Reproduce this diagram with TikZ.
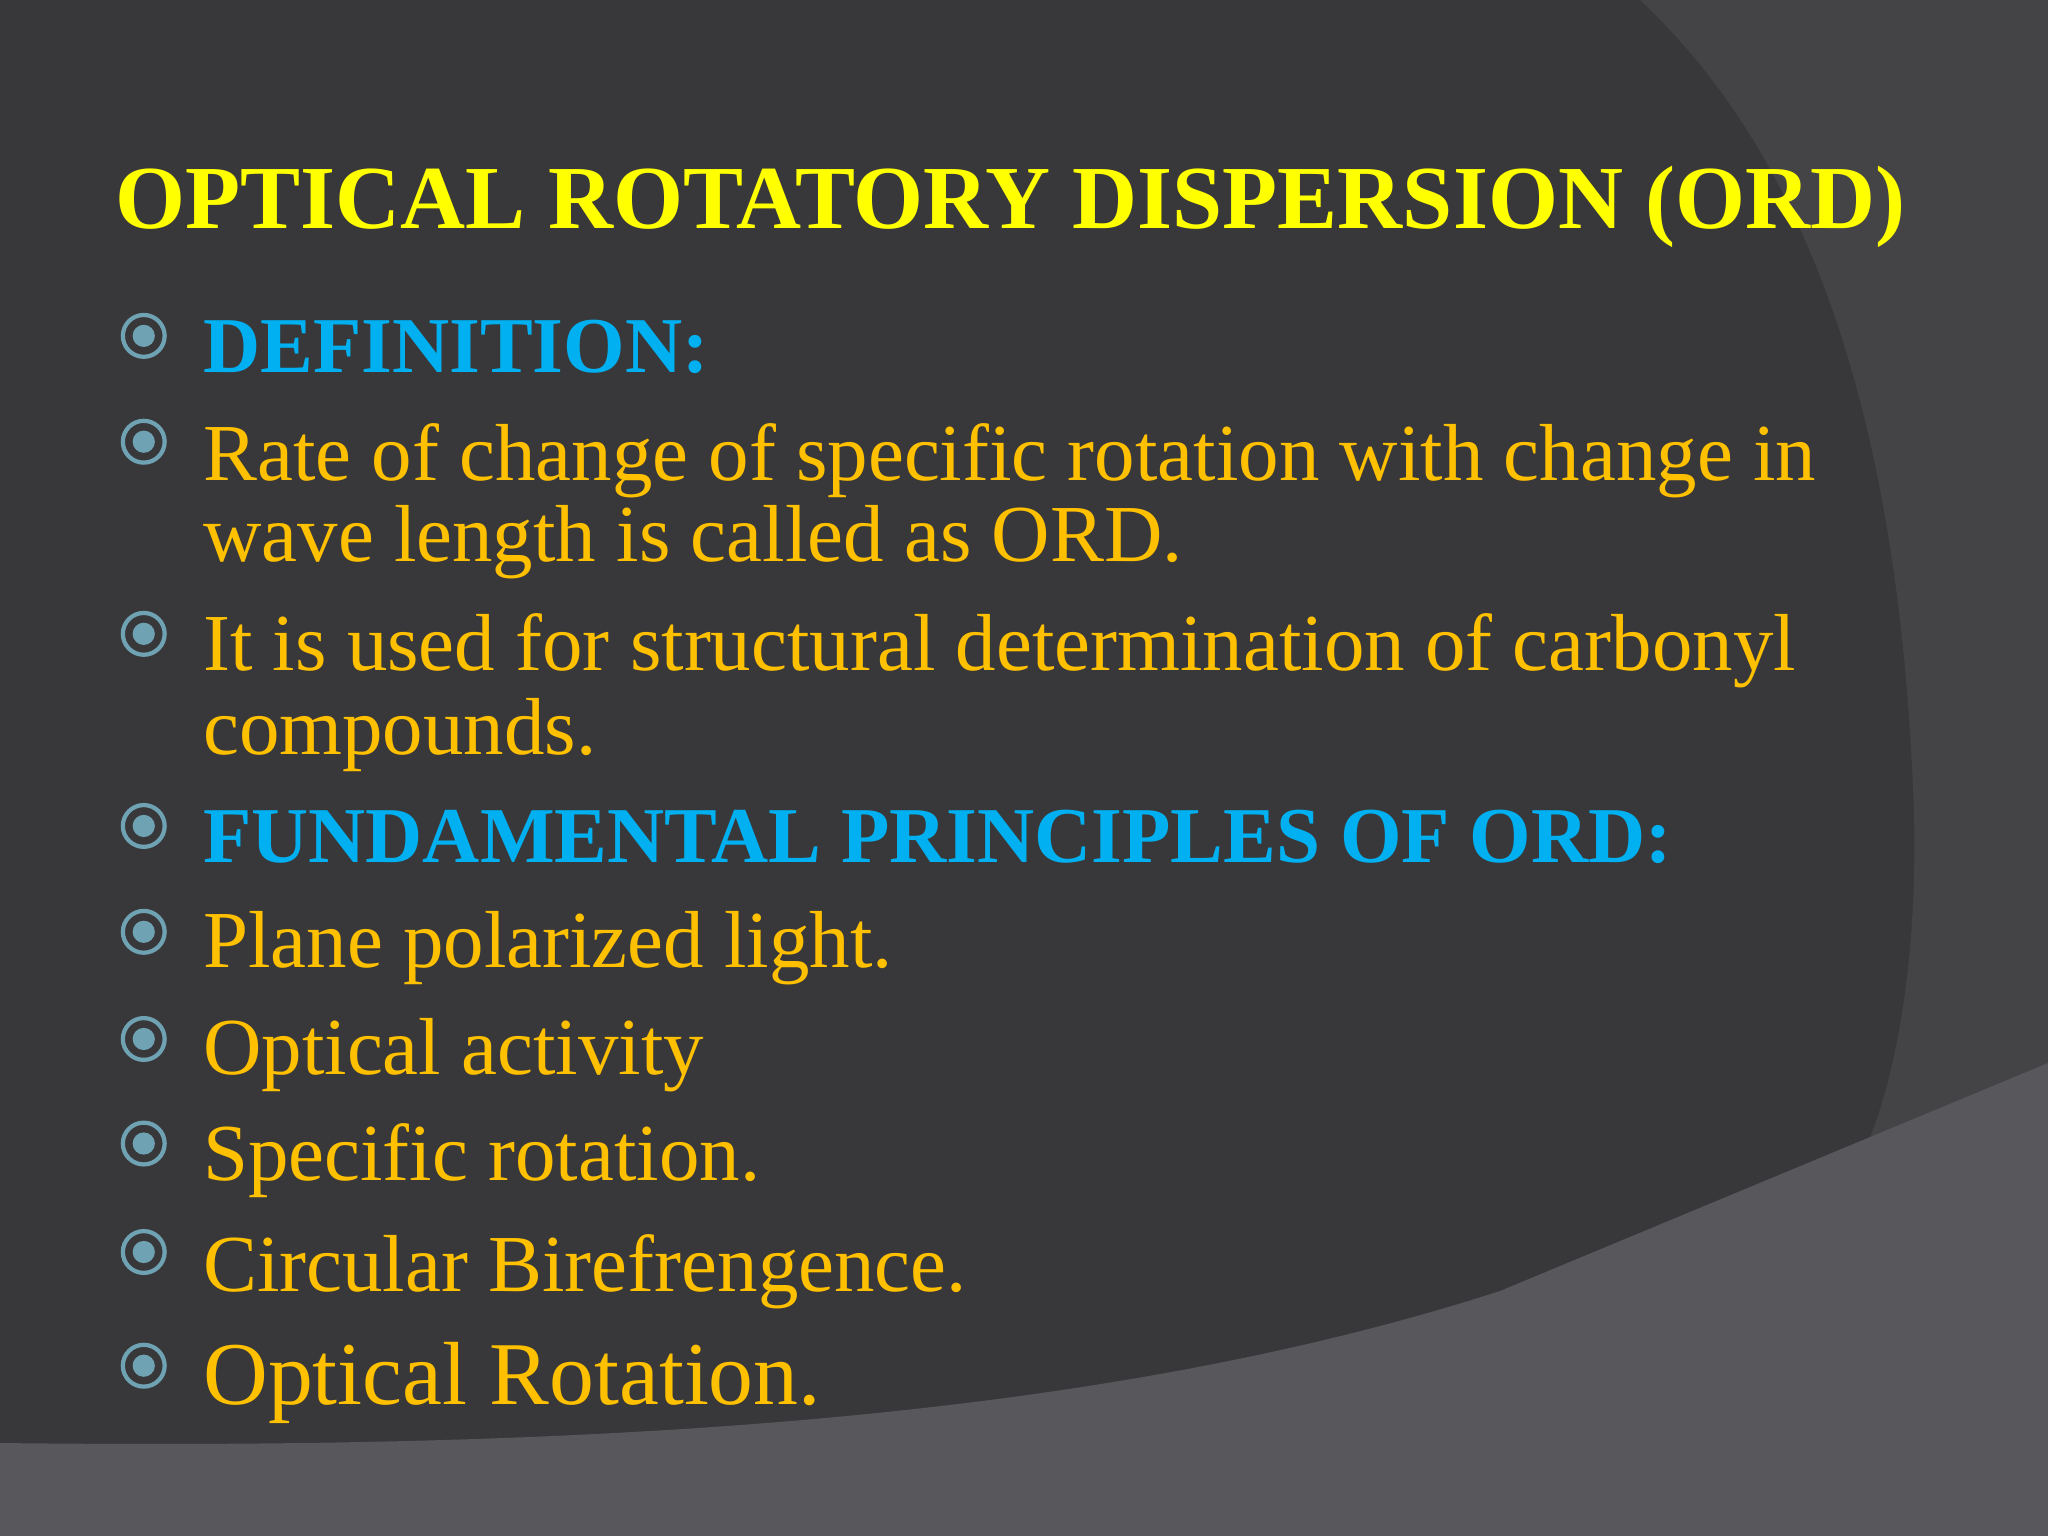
\documentclass[tikz,border=0pt]{standalone}
\usepackage{fontspec}
\setmainfont{Liberation Serif}
\definecolor{bgA}{HTML}{38383A}
\definecolor{bgB}{HTML}{444446}
\definecolor{bgC}{HTML}{58575B}
\definecolor{ttl}{HTML}{FFFF00}
\definecolor{hd}{HTML}{00B0F0}
\definecolor{bd}{HTML}{FFC000}
\definecolor{bul}{HTML}{6FA3B4}
\tikzset{
  body/.style={anchor=base west,inner sep=0pt,text=bd,font=\fontsize{23}{28}\selectfont},
  head/.style={anchor=base west,inner sep=0pt,text=hd,font=\bfseries\fontsize{22.5}{28}\selectfont},
  bull/.pic={\draw[bul,line width=1.2pt] (0,0) circle (16); \fill[bul] (0,0) circle (8.5);}
}
\begin{document}
\begin{tikzpicture}[x=0.01cm,y=-0.01cm]
\fill[bgA] (0,0) rectangle (2048,1536);
\fill[bgB] (1640,0) .. controls (1800,150) and (1900,400) .. (1914,813) .. controls (1918,980) and (1890,1100) .. (1860,1160) -- (2048,1160) -- (2048,0) -- cycle;
\fill[bgC] (0,1443) .. controls (600,1450) and (1100,1420) .. (1500,1291) -- (2048,1063) -- (2048,1536) -- (0,1536) -- cycle;
\useasboundingbox (0,0) rectangle (2048,1536);
\begin{scope}[x=0.013061cm,y=-0.013061cm]
\node[anchor=base west,inner sep=0pt,text=ttl,font=\bfseries\fontsize{25.6}{30}\selectfont] (title) at (88,175) {OPTICAL ROTATORY DISPERSION (ORD)};
\foreach \y in {257,338,485,632,713,795,875,958,1045} \pic at (110,\y) {bull};
\node[head] (h1) at (155,285) {DEFINITION:};
\node[body] (t1) at (155,368) {Rate of change of specific rotation with change in};
\node[body] (t1b) at (155,430) {wave length is called as ORD.};
\node[body] (t2) at (155,513) {It is used for structural determination of carbonyl};
\node[body] (t2b) at (155,577) {compounds.};
\node[head] (h2) at (155,660) {FUNDAMENTAL PRINCIPLES OF ORD:};
\node[body] (t3) at (155,740) {Plane polarized light.};
\node[body] (t4) at (155,822) {Optical activity};
\node[body] (t5) at (155,903) {Specific rotation.};
\node[body] (t6) at (155,988) {Circular Birefrengence.};
\node[body,font=\fontsize{25.5}{30}\selectfont] (t7) at (155,1075) {Optical Rotation.};
\end{scope}
\end{tikzpicture}
\end{document}
